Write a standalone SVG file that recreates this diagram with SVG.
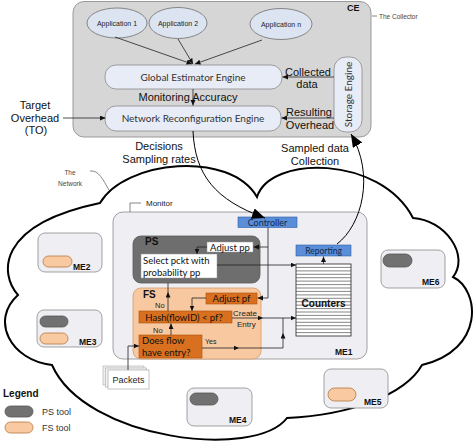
<svg xmlns="http://www.w3.org/2000/svg" width="474" height="444" viewBox="0 0 474 444">
<style>
.ce{fill:#d6d6d6;stroke:#9a9a9a;stroke-width:1}
.app{fill:#dde4f1;stroke:#6f6f6f;stroke-width:0.8}
.eng{fill:#e7ecf6;stroke:#8a8a8a;stroke-width:0.8}
.me{fill:#eeeef3;stroke:#8c8c8c;stroke-width:0.8}
.psbox{fill:#6e6e6e;stroke:#5a5a5a;stroke-width:0.8}
.fsbox{fill:#f8c9a0;stroke:#d49a6a;stroke-width:0.8}
.pstool{fill:#717171;stroke:#555;stroke-width:0.8}
.fstool{fill:#f9c9a1;stroke:#b5773f;stroke-width:0.8}
.org{fill:#d8701f;stroke:#a85210;stroke-width:0.6}
.wht{fill:#fff;stroke:#999;stroke-width:0.5}
.blue{fill:#5b8ed8;stroke:#2f5fa8;stroke-width:0.6}
.ln{fill:none;stroke:#222;stroke-width:0.8}
.thin{fill:none;stroke:#555;stroke-width:0.7}
.sa{font-family:"Liberation Sans",Arial,sans-serif}
.cal{font-family:Lato,"Open Sans",sans-serif}
.b{font-weight:bold}
</style>
<defs>
<marker id="sm" markerUnits="userSpaceOnUse" markerWidth="6" markerHeight="6" refX="5.5" refY="2.5" orient="auto">
<path d="M0,0 L5.5,2.5 L0,5 z" fill="#111"/>
</marker>
<marker id="big" markerUnits="userSpaceOnUse" markerWidth="14" markerHeight="12" refX="13" refY="5.5" orient="auto">
<path d="M0,0 L13,5.5 L0,11 z" fill="#000"/>
</marker>
</defs>

<!-- Cloud (the network) -->
<g id="network">
<path d="M100,203 C125,160 230,150 257,197 C270,155 380,155 413,218 C445,220 470,255 453,277 C480,290 485,350 422,365 C405,395 350,415 287,418 C255,460 85,440 52,365 C10,360 -10,320 18,295 C0,275 -5,225 100,203 Z" fill="#fff" stroke="#000" stroke-width="2"/>
<path d="M90,171 C99,170 103,180 109,190" class="thin" stroke="#777"/>
<text class="sa" font-size="6.5" fill="#444" text-anchor="middle" x="70" y="175">The</text>
<text class="sa" font-size="6.5" fill="#444" text-anchor="middle" x="70" y="186">Network</text>
</g>

<!-- Collector -->
<g id="ce">
<rect class="ce" x="73" y="1.5" width="298" height="135.5" rx="11"/>
<text class="sa b" font-size="9" x="347" y="11" fill="#111">CE</text>
<path d="M372,16 H377" class="thin" stroke="#777"/>
<text class="sa" font-size="6.5" fill="#444" x="379" y="19">The Collector</text>
</g>
<g id="app1"><ellipse class="app" cx="117" cy="23" rx="30" ry="15"/><text class="sa" font-size="7" fill="#222" text-anchor="middle" x="117" y="25.5">Application 1</text></g>
<g id="app2"><ellipse class="app" cx="178" cy="23" rx="29" ry="15.5"/><text class="sa" font-size="7" fill="#222" text-anchor="middle" x="178" y="25.5">Application 2</text></g>
<g id="appn"><ellipse class="app" cx="281" cy="24" rx="31" ry="15.5"/><text class="sa" font-size="7" fill="#222" text-anchor="middle" x="281" y="26.5">Application n</text></g>
<g id="gee"><rect class="eng" x="105" y="65" width="177" height="24" rx="11"/><text class="cal" font-size="10" fill="#333" text-anchor="middle" x="193" y="81">Global Estimator Engine</text></g>
<g id="nre"><rect class="eng" x="105" y="106" width="176" height="25" rx="11"/><text class="cal" font-size="10" fill="#333" text-anchor="middle" x="193" y="122">Network Reconfiguration Engine</text></g>
<g id="storage"><rect class="eng" x="334" y="57" width="28" height="75" rx="12"/><text class="cal" font-size="10" fill="#333" text-anchor="middle" transform="translate(352,94.5) rotate(-90)">Storage Engine</text></g>

<!-- Labels -->
<g id="labels" class="sa" font-size="11" fill="#111" text-anchor="middle">
<text x="188" y="101">Monitoring Accuracy</text>
<text x="308" y="76">Collected</text>
<text x="307" y="88">data</text>
<text x="309" y="116">Resulting</text>
<text x="310" y="129">Overhead</text>
<text x="35" y="109">Target</text>
<text x="35" y="122">Overhead</text>
<text x="36" y="134">(TO)</text>
<text x="159" y="150">Decisions</text>
<text x="159" y="163">Sampling rates</text>
<text x="315" y="152">Sampled data</text>
<text x="315" y="165">Collection</text>
</g>

<!-- Monitor ME1 -->
<g id="me1">
<rect class="me" x="113" y="212" width="254" height="147" rx="10"/>
<path d="M130,212 V203 H141" class="thin" stroke="#666"/>
<text class="sa" font-size="8" fill="#222" x="146" y="206">Monitor</text>
<text class="sa b" font-size="8.5" fill="#111" x="335" y="355">ME1</text>
</g>
<g id="controller"><rect class="blue" x="238" y="217" width="59" height="10.5"/><text class="cal" font-size="9" fill="#14284a" text-anchor="middle" x="267.5" y="225.5">Controller</text></g>
<g id="ps">
<rect class="psbox" x="133" y="236" width="127" height="47" rx="8"/>
<text class="sa b" font-size="10" fill="#111" x="145" y="245">PS</text>
</g>
<g id="adjustpp"><rect class="wht" x="207" y="242" width="46" height="10"/><text class="cal" font-size="9.5" fill="#111" text-anchor="middle" x="230" y="250.5">Adjust pp</text></g>
<g id="select"><rect class="wht" x="141" y="254" width="76" height="24"/><text class="cal" font-size="9.5" fill="#111" x="143" y="264">Select pckt with</text><text class="cal" font-size="9.5" fill="#111" x="143" y="275.5">probability pp</text></g>
<g id="fs">
<rect class="fsbox" x="133" y="288" width="128" height="71" rx="8"/>
<text class="sa b" font-size="10" fill="#111" x="143" y="298">FS</text>
</g>
<g id="adjustpf"><rect class="org" x="206" y="293" width="51" height="11"/><text class="cal" font-size="9.5" fill="#111" text-anchor="middle" x="231.5" y="302">Adjust pf</text></g>
<g id="hash"><rect class="org" x="139" y="311" width="93" height="12"/><text class="cal" font-size="9.5" fill="#111" text-anchor="middle" x="184" y="320.5">Hash(flowID) &lt; pf?</text></g>
<g id="doesflow"><rect class="org" x="139" y="335" width="63" height="23"/><text class="cal" font-size="9.5" fill="#111" x="142" y="344">Does flow</text><text class="cal" font-size="9.5" fill="#111" x="142" y="355.5">have entry?</text></g>
<g id="reporting"><rect class="blue" x="296" y="245" width="55" height="11"/><text class="cal" font-size="8.5" fill="#14284a" text-anchor="middle" x="323.5" y="253.5">Reporting</text></g>
<g id="counters">
<rect x="296" y="264" width="55" height="72" fill="#fff" stroke="#222" stroke-width="0.8"/>
<path d="M296,267.4h55M296,270.9h55M296,274.3h55M296,277.7h55M296,281.1h55M296,284.6h55M296,288h55M296,291.4h55M296,294.9h55M296,298.3h55M296,301.7h55M296,305.1h55M296,308.6h55M296,312h55M296,315.4h55M296,318.9h55M296,322.3h55M296,325.7h55M296,329.1h55M296,332.6h55" stroke="#333" stroke-width="0.6"/>
<text class="sa b" font-size="10" fill="#111" text-anchor="middle" x="323.5" y="307">Counters</text>
</g>
<g id="packets">
<rect x="103" y="366" width="41" height="19" fill="#eee" stroke="#aaa" stroke-width="0.6"/>
<rect x="105.5" y="368" width="41" height="19" fill="#f3f3f3" stroke="#aaa" stroke-width="0.6"/>
<rect x="108" y="370" width="41" height="19" fill="#fff" stroke="#999" stroke-width="0.6"/>
<text class="sa" font-size="9" fill="#222" text-anchor="middle" x="128.5" y="383">Packets</text>
</g>
<g id="flow-labels" class="sa" fill="#222">
<text font-size="7.5" x="155" y="308">No</text>
<text font-size="7.5" x="153" y="333">No</text>
<text font-size="8" x="233" y="316">Create</text>
<text font-size="8" x="237" y="327">Entry</text>
<text font-size="7" x="205" y="344">Yes</text>
</g>

<!-- Other MEs -->
<g id="me2"><rect class="me" x="38" y="233" width="64" height="39" rx="7"/><rect class="fstool" x="43" y="256" width="29" height="11" rx="5.5"/><text class="sa b" font-size="8.5" fill="#111" x="73" y="270">ME2</text></g>
<g id="me3"><rect class="me" x="37" y="310" width="65" height="37" rx="7"/><rect class="pstool" x="40" y="316" width="28" height="11" rx="5.5"/><rect class="fstool" x="40" y="333" width="28" height="11" rx="5.5"/><text class="sa b" font-size="8.5" fill="#111" x="79" y="345">ME3</text></g>
<g id="me4"><rect class="me" x="187" y="388" width="65" height="38" rx="7"/><rect class="pstool" x="190" y="393" width="28" height="12" rx="6"/><text class="sa b" font-size="8.5" fill="#111" x="229" y="423">ME4</text></g>
<g id="me5"><rect class="me" x="324" y="369" width="64" height="39" rx="7"/><rect class="fstool" x="328" y="388" width="28" height="13" rx="6.5"/><text class="sa b" font-size="8.5" fill="#111" x="364" y="405">ME5</text></g>
<g id="me6"><rect class="me" x="381" y="250" width="64" height="38" rx="7"/><rect class="pstool" x="383" y="254" width="29" height="13" rx="6.5"/><text class="sa b" font-size="8.5" fill="#111" x="422" y="285">ME6</text></g>

<!-- Legend -->
<g id="legend">
<text class="sa b" font-size="10" fill="#111" x="3" y="397">Legend</text>
<rect class="pstool" x="5" y="406" width="28" height="11" rx="5.5"/>
<text class="sa" font-size="9" fill="#333" x="42" y="415">PS tool</text>
<rect class="fstool" x="5" y="422" width="28" height="11" rx="5.5"/>
<text class="sa" font-size="9" fill="#333" x="42" y="431">FS tool</text>
</g>

<!-- Connectors -->
<g id="connectors">
<path class="ln" d="M115,37 L192,64" marker-end="url(#sm)"/>
<path class="ln" d="M178,39 L193,64" marker-end="url(#sm)"/>
<path class="ln" d="M262,40 L195,64" marker-end="url(#sm)"/>
<path class="ln" d="M193,89 V105.5" marker-end="url(#sm)"/>
<path class="ln" d="M334,77 H282.5" marker-end="url(#sm)"/>
<path class="ln" d="M334,118 H281.5" marker-end="url(#sm)"/>
<path class="ln" d="M63,118 H105.5" marker-end="url(#sm)"/>
<path d="M193,131 C195,175 215,200 265,218" fill="none" stroke="#000" stroke-width="1" marker-end="url(#big)"/>
<path d="M337,244 C362,225 375,175 351,134" fill="none" stroke="#000" stroke-width="1" marker-end="url(#big)"/>
<path class="ln" d="M268,227.5 V298"/>
<path class="ln" d="M268,247 H253.5" marker-end="url(#sm)"/>
<path class="ln" d="M268,298 H257.5" marker-end="url(#sm)"/>
<path class="ln" d="M207,247 H197 V254" marker-end="url(#sm)"/>
<path class="ln" d="M217,265 H296" marker-end="url(#sm)"/>
<path class="ln" d="M206,298 H192 V311" marker-end="url(#sm)"/>
<path class="ln" d="M168,311 V292" marker-end="url(#sm)"/>
<path class="ln" d="M168,292 V283"/>
<path class="ln" d="M171,335 V323.5" marker-end="url(#sm)"/>
<path class="ln" d="M232,318 H263" marker-end="url(#sm)"/>
<path class="ln" d="M263,318 H296" marker-end="url(#sm)"/>
<path class="ln" d="M202,348 H239" marker-end="url(#sm)"/>
<path class="ln" d="M239,348 H283 V333" marker-end="url(#sm)"/>
<path class="ln" d="M283,333 V318"/>
<path class="ln" d="M323.5,264 V256.5" marker-end="url(#sm)"/>
<path class="ln" d="M128,370 V346 H139" marker-end="url(#sm)"/>
</g>
</svg>
